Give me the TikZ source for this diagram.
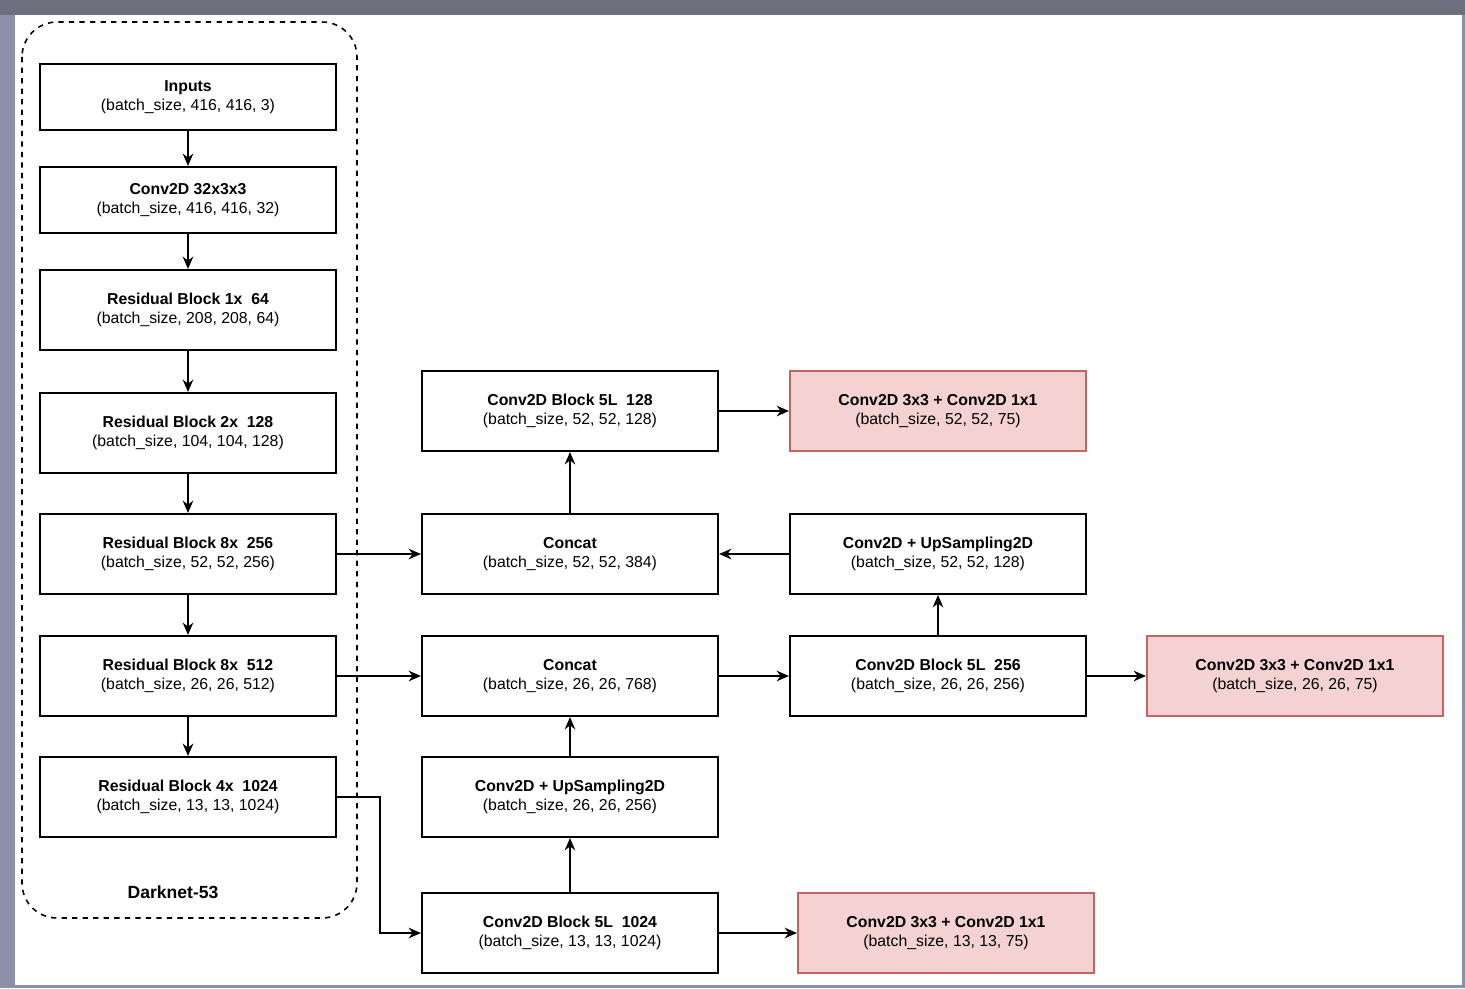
\documentclass[tikz,border=0pt]{standalone}
\usepackage{fontspec}
\setmainfont{Liberation Sans}
\usetikzlibrary{arrows.meta}
\definecolor{frameout}{HTML}{8C91A8}
\definecolor{frametop}{HTML}{6E7080}
\definecolor{redfill}{HTML}{F4D2D2}
\definecolor{redline}{HTML}{C06464}
\begin{document}
\begin{tikzpicture}[x=0.02cm,y=-0.02cm,
  box/.style={draw,line width=1.2pt,fill=white,minimum width=5.92cm,minimum height=1.6cm,align=center,inner sep=1pt,font=\fontsize{9}{11}\selectfont},
  red/.style={box,fill=redfill,draw=redline},
  arr/.style={-{Stealth[length=7pt,width=6pt]},line width=1.2pt}]
\useasboundingbox (0,0) rectangle (1465,988);
\fill[frameout] (0,0) rectangle (1465,988);
\fill[frametop] (0,0) rectangle (1465,15);
\fill[white] (15,15) rectangle (1462,985);
\draw[dashed,line width=0.9pt,rounded corners=0.7cm] (22,22) rectangle (357,918);
\node[font=\fontsize{10}{12}\selectfont\bfseries] (dn) at (173,892) {Darknet-53};
% left column
\node[box,minimum height=1.32cm] (in) at (188,97) {\textbf{Inputs}\\(batch\_size, 416, 416, 3)};
\node[box,minimum height=1.32cm] (c32) at (188,200) {\textbf{Conv2D 32x3x3}\\(batch\_size, 416, 416, 32)};
\node[box] (r1) at (188,310) {\textbf{Residual Block 1x\ \ 64}\\(batch\_size, 208, 208, 64)};
\node[box] (r2) at (188,433) {\textbf{Residual Block 2x\ \ 128}\\(batch\_size, 104, 104, 128)};
\node[box] (r8a) at (188,554) {\textbf{Residual Block 8x\ \ 256}\\(batch\_size, 52, 52, 256)};
\node[box] (r8b) at (188,676) {\textbf{Residual Block 8x\ \ 512}\\(batch\_size, 26, 26, 512)};
\node[box] (r4) at (188,797) {\textbf{Residual Block 4x\ \ 1024}\\(batch\_size, 13, 13, 1024)};
% middle column
\node[box] (b128) at (570,411) {\textbf{Conv2D Block 5L\ \ 128}\\(batch\_size, 52, 52, 128)};
\node[box] (cc384) at (570,554) {\textbf{Concat}\\(batch\_size, 52, 52, 384)};
\node[box] (cc768) at (570,676) {\textbf{Concat}\\(batch\_size, 26, 26, 768)};
\node[box] (up256) at (570,797) {\textbf{Conv2D + UpSampling2D}\\(batch\_size, 26, 26, 256)};
\node[box] (b1024) at (570,933) {\textbf{Conv2D Block 5L\ \ 1024}\\(batch\_size, 13, 13, 1024)};
% right column
\node[red] (o52) at (938,411) {\textbf{Conv2D 3x3 + Conv2D 1x1}\\(batch\_size, 52, 52, 75)};
\node[box] (up128) at (938,554) {\textbf{Conv2D + UpSampling2D}\\(batch\_size, 52, 52, 128)};
\node[box] (b256) at (938,676) {\textbf{Conv2D Block 5L\ \ 256}\\(batch\_size, 26, 26, 256)};
\node[red] (o13) at (946,933) {\textbf{Conv2D 3x3 + Conv2D 1x1}\\(batch\_size, 13, 13, 75)};
\node[red] (o26) at (1295,676) {\textbf{Conv2D 3x3 + Conv2D 1x1}\\(batch\_size, 26, 26, 75)};
% arrows
\draw[arr] (in) -- (c32);
\draw[arr] (c32) -- (r1);
\draw[arr] (r1) -- (r2);
\draw[arr] (r2) -- (r8a);
\draw[arr] (r8a) -- (r8b);
\draw[arr] (r8b) -- (r4);
\draw[arr] (r8a) -- (cc384);
\draw[arr] (r8b) -- (cc768);
\draw[arr] (r4.east) -- (380,797) |- (b1024.west);
\draw[arr] (b1024) -- (up256);
\draw[arr] (up256) -- (cc768);
\draw[arr] (cc768) -- (b256);
\draw[arr] (b256) -- (up128);
\draw[arr] (up128) -- (cc384);
\draw[arr] (cc384) -- (b128);
\draw[arr] (b128) -- (o52);
\draw[arr] (b256) -- (o26);
\draw[arr] (b1024) -- (o13);
\end{tikzpicture}
\end{document}
